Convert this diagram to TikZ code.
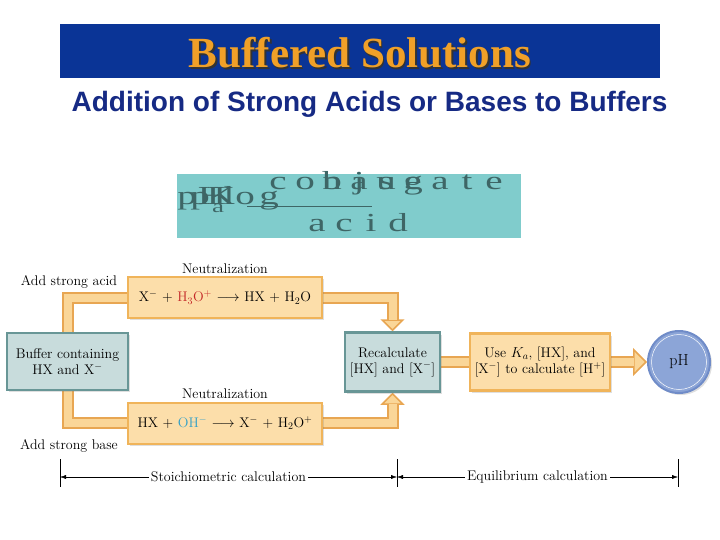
\documentclass[tikz,border=0pt]{standalone}
\usepackage{fontspec}
\newfontfamily\titlefont{Liberation Serif}
\newfontfamily\formulafont[FakeStretch=1.5]{Liberation Serif}
\newfontfamily\headfont{Liberation Sans}
\usetikzlibrary{arrows.meta, shadows, backgrounds}

\definecolor{barblue}{RGB}{10,52,150}
\definecolor{titleorange}{RGB}{240,160,40}
\definecolor{headblue}{RGB}{22,42,132}
\definecolor{formulateal}{RGB}{128,204,204}
\definecolor{formulaink}{RGB}{62,102,102}
\definecolor{boxfill}{RGB}{252,222,170}
\definecolor{boxedge}{RGB}{240,180,90}
\definecolor{pipefill}{RGB}{250,214,152}
\definecolor{pipeedge}{RGB}{232,166,82}
\definecolor{tealfill}{RGB}{200,220,220}
\definecolor{tealedge}{RGB}{104,150,150}
\definecolor{phfill}{RGB}{140,165,215}
\definecolor{phedge}{RGB}{112,140,200}
\definecolor{acidred}{RGB}{196,40,40}
\definecolor{basecyan}{RGB}{50,160,200}

\begin{document}
\begin{tikzpicture}[x=1pt, y=-1pt,
    every node/.style={font=\fontsize{14}{16}\selectfont},
    rxnbox/.style={draw=boxedge, fill=boxfill, line width=2pt,
      minimum width=194pt, minimum height=41pt,
      drop shadow={opacity=0.25, shadow xshift=2pt, shadow yshift=-2pt}},
    calcbox/.style={draw=tealedge, fill=tealfill, line width=2.5pt, align=center,
      drop shadow={opacity=0.25, shadow xshift=2pt, shadow yshift=-2pt}},
    pipeout/.style={draw=pipeedge, line width=12pt},
    pipein/.style={draw=pipefill, line width=8pt},
    pipetip/.style={-{Triangle[width=24pt, length=12pt, fill=pipefill, line width=1.5pt]}},
    letter/.style={font=\formulafont\fontsize{26}{26}\selectfont, text=formulaink,
      anchor=base, inner sep=0pt},
    dimline/.style={{Latex[length=6pt, width=4pt]}-{Latex[length=6pt, width=4pt]}}]
  \useasboundingbox (0,0) rectangle (720,540);

  % title and heading
  \fill[barblue] (60,24) rectangle (660,78);
  \node[anchor=base, text=black!80, font=\titlefont\bfseries\fontsize{43}{43}\selectfont]
    at (361.5,69.5) {Buffered Solutions};
  \node (title) [anchor=base, text=titleorange, font=\titlefont\bfseries\fontsize{43}{43}\selectfont]
    at (360,68) {Buffered Solutions};
  \node (heading) [anchor=base, text=headblue, font=\headfont\bfseries\fontsize{28}{28}\selectfont]
    at (369.5,112) {Addition of Strong Acids or Bases to Buffers};

  % Henderson-Hasselbalch box
  \fill[formulateal] (177,174) rectangle (521,238);
  \foreach \c [count=\i from 0] in {c,o,n,j,u,g,a,t,e}
    \node[letter] at (278+27*\i,190) {\c};
  \foreach \c [count=\i from 0] in {b,a,s,e}
    \node[letter] at (332+27*\i,190) {\c};
  \foreach \c [count=\i from 0] in {a,c,i,d}
    \node[letter] at (317+27*\i,232) {\c};
  \node[letter] at (187,205) {p};
  \node[letter] at (212,205) {H};
  \node[letter] at (200,205) {p};
  \node[letter] at (221,205) {K};
  \node[letter, font=\formulafont\fontsize{18}{18}\selectfont] at (218,213) {a};
  \node[letter] at (229,205) {l};
  \node[letter] at (245,205) {o};
  \node[letter] at (269,205) {g};
  \draw[formulaink, line width=0.6pt] (247,206) -- (372,206);

  % flow chart
  \node (buffer) [calcbox, minimum width=121pt, minimum height=57pt]
    at (67.5,361.5) {Buffer containing\\HX and X$^-$};
  \node (acidbox) [rxnbox] at (225,297.5)
    {X$^-$ + {\color{acidred}H$_3$O$^+$} $\longrightarrow$ HX + H$_2$O};
  \node (basebox) [rxnbox] at (225,423)
    {HX + {\color{basecyan}OH$^-$} $\longrightarrow$ X$^-$ + H$_2$O$^+$};
  \node (recalc) [calcbox, minimum width=95pt, minimum height=59pt]
    at (392.5,362) {Recalculate\\{[HX]} and [X$^-$]};
  \node (useka) [calcbox, draw=boxedge, fill=boxfill, minimum width=140pt, minimum height=57pt]
    at (540,362) {Use $K_a$, [HX], and\\{[X$^-$]} to calculate [H$^+$]};
  \node (ph) [circle, draw=phedge, fill=phfill, line width=2pt, minimum size=62pt,
    drop shadow={opacity=0.25, shadow xshift=2pt, shadow yshift=-2pt},
    font=\fontsize{16}{18}\selectfont] at (679,362) {pH};
  \draw[white, line width=0.5pt] (ph.center) circle (27.5pt);

  \node (addacid) at (69,282) {Add strong acid};
  \node (addbase) at (69,446) {Add strong base};
  \node (neutacid) [above=-1pt] at (acidbox.north) {Neutralization};
  \node (neutbase) [above=-1pt] at (basebox.north) {Neutralization};

  \begin{scope}[on background layer]
    \draw[pipeout] (buffer.north) |- (acidbox.west);
    \draw[pipein] (buffer.north) |- (acidbox.west);
    \draw[pipeout] (buffer.south) |- (basebox.west);
    \draw[pipein] (buffer.south) |- (basebox.west);
    \draw[pipeout, pipetip] (acidbox.east) -| (recalc.north);
    \draw[pipein, shorten >=11pt] (acidbox.east) -| (recalc.north);
    \draw[pipeout, pipetip] (basebox.east) -| (recalc.south);
    \draw[pipein, shorten >=11pt] (basebox.east) -| (recalc.south);
    \draw[pipeout] (recalc.east) -- (useka.west);
    \draw[pipein] (recalc.east) -- (useka.west);
    \draw[pipeout, -{Triangle[width=28pt, length=14pt, fill=pipefill, line width=1.5pt]}]
      (useka.east) -- (ph.west);
    \draw[pipein, shorten >=13pt] (useka.east) -- (ph.west);
  \end{scope}

  % calculation ranges
  \coordinate (stoich) at (60,477);
  \coordinate (split) at (397,477);
  \coordinate (equil) at (678,477);
  \draw[thin] (60,459) -- (60,487);
  \draw[thin] (397,459) -- (397,487);
  \draw[thin] (678,459) -- (678,487);
  \draw[dimline] (stoich) -- node[fill=white, inner sep=2pt] {Stoichiometric calculation} (split);
  \draw[dimline] (split) -- node[fill=white, inner sep=2pt] {Equilibrium calculation} (equil);
\end{tikzpicture}
\end{document}
